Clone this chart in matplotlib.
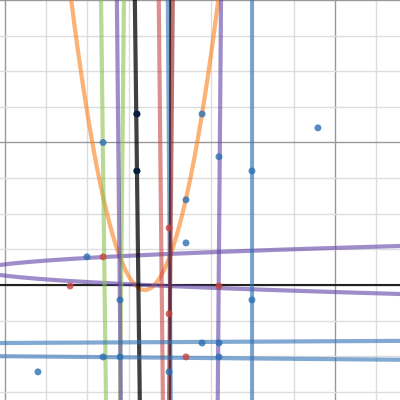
import matplotlib
matplotlib.use("Agg")
from matplotlib import pyplot as plt
import numpy as np

# near-vertical lines: (x at top y=8, x at bottom y=-3.23, colour)
steep_lines = [(-1.67, -1.55, '#8cc152'), (-1.115, -1.21, '#8cc152'),
               (-1.285, -1.19, '#6042a6'), (-0.85, -0.73, '#000000'),
               (-0.27, -0.17, '#c74440'), (-0.05, 0.02, '#2d70b3'),
               (0.07, -0.02, '#8b1a1a'), (1.24, 1.16, '#6042a6'),
               (1.99, 1.99, '#2d70b3')]
# near-horizontal blue lines: (y at left, y at right)
flat_lines = [(-1.63, -1.57), (-2.0, -2.1)]

blue_x = [-0.8, -1.62, -0.8, 0.78, 3.59, 1.19, 1.99, 0.39, 0.39, -2.01, -1.21,
          1.99, 0.78, 1.19, -1.62, -1.21, 1.19, -3.2, -0.02]
blue_y = [4.8, 4.0, 3.2, 4.8, 4.41, 3.6, 3.2, 2.39, 1.18, 0.79, -0.42,
          -0.42, -1.63, -1.63, -2.02, -2.02, -2.02, -2.44, -2.44]
red_x = [-2.42, -1.62, -0.02, -0.02, 1.19, 0.39]
red_y = [-0.03, 0.79, 1.6, -0.81, -0.03, -2.02]

x0, x1, y0, y1 = -4.12, 5.58, -3.23, 8.0

fig = plt.figure(figsize=(4, 4), dpi=100)
ax = fig.add_axes([0, 0, 1, 1])
ax.set_xlim(x0, x1)
ax.set_ylim(y0, y1)

for v in range(-4, 6):
    ax.axvline(v, color='#999999' if v % 4 == 0 else '#dddddd', lw=1, zorder=0)
for v in range(-3, 9):
    ax.axhline(v, color='#999999' if v % 4 == 0 else '#dddddd', lw=1, zorder=0)
ax.axhline(0, color='#222222', lw=1.5, zorder=1)
ax.axvline(0, color='#222222', lw=1.5, zorder=1)

# orange parabola
xs = np.linspace(x0, x1, 800)
ax.plot(xs, 2.56 * (xs + 0.61) ** 2 - 0.14, color='#fa7e19', lw=3, alpha=0.6)

# sideways purple parabola
ys = np.linspace(y0, y1, 800)
ax.plot(22.3 * (ys - 0.42) ** 2 - 4.56, ys, color='#6042a6', lw=3, alpha=0.6)

for xt, xb, c in steep_lines:
    ax.plot([xt, xb], [y1, y0], color=c, lw=3, alpha=0.6 if c != '#000000' else 0.75)
for yl, yr in flat_lines:
    ax.plot([x0, x1], [yl, yr], color='#2d70b3', lw=3, alpha=0.6)

ax.scatter(blue_x, blue_y, s=25, color='#2d70b3', alpha=0.8, zorder=5, edgecolors='none')
ax.scatter([-0.8, -0.8], [4.8, 3.2], s=25, color='#0b1f3a', zorder=6, edgecolors='none')
ax.scatter(red_x, red_y, s=25, color='#c74440', alpha=0.8, zorder=5, edgecolors='none')

ax.set_xticks([])
ax.set_yticks([])
for s in ax.spines.values():
    s.set_visible(False)
fig.savefig('out.png')
